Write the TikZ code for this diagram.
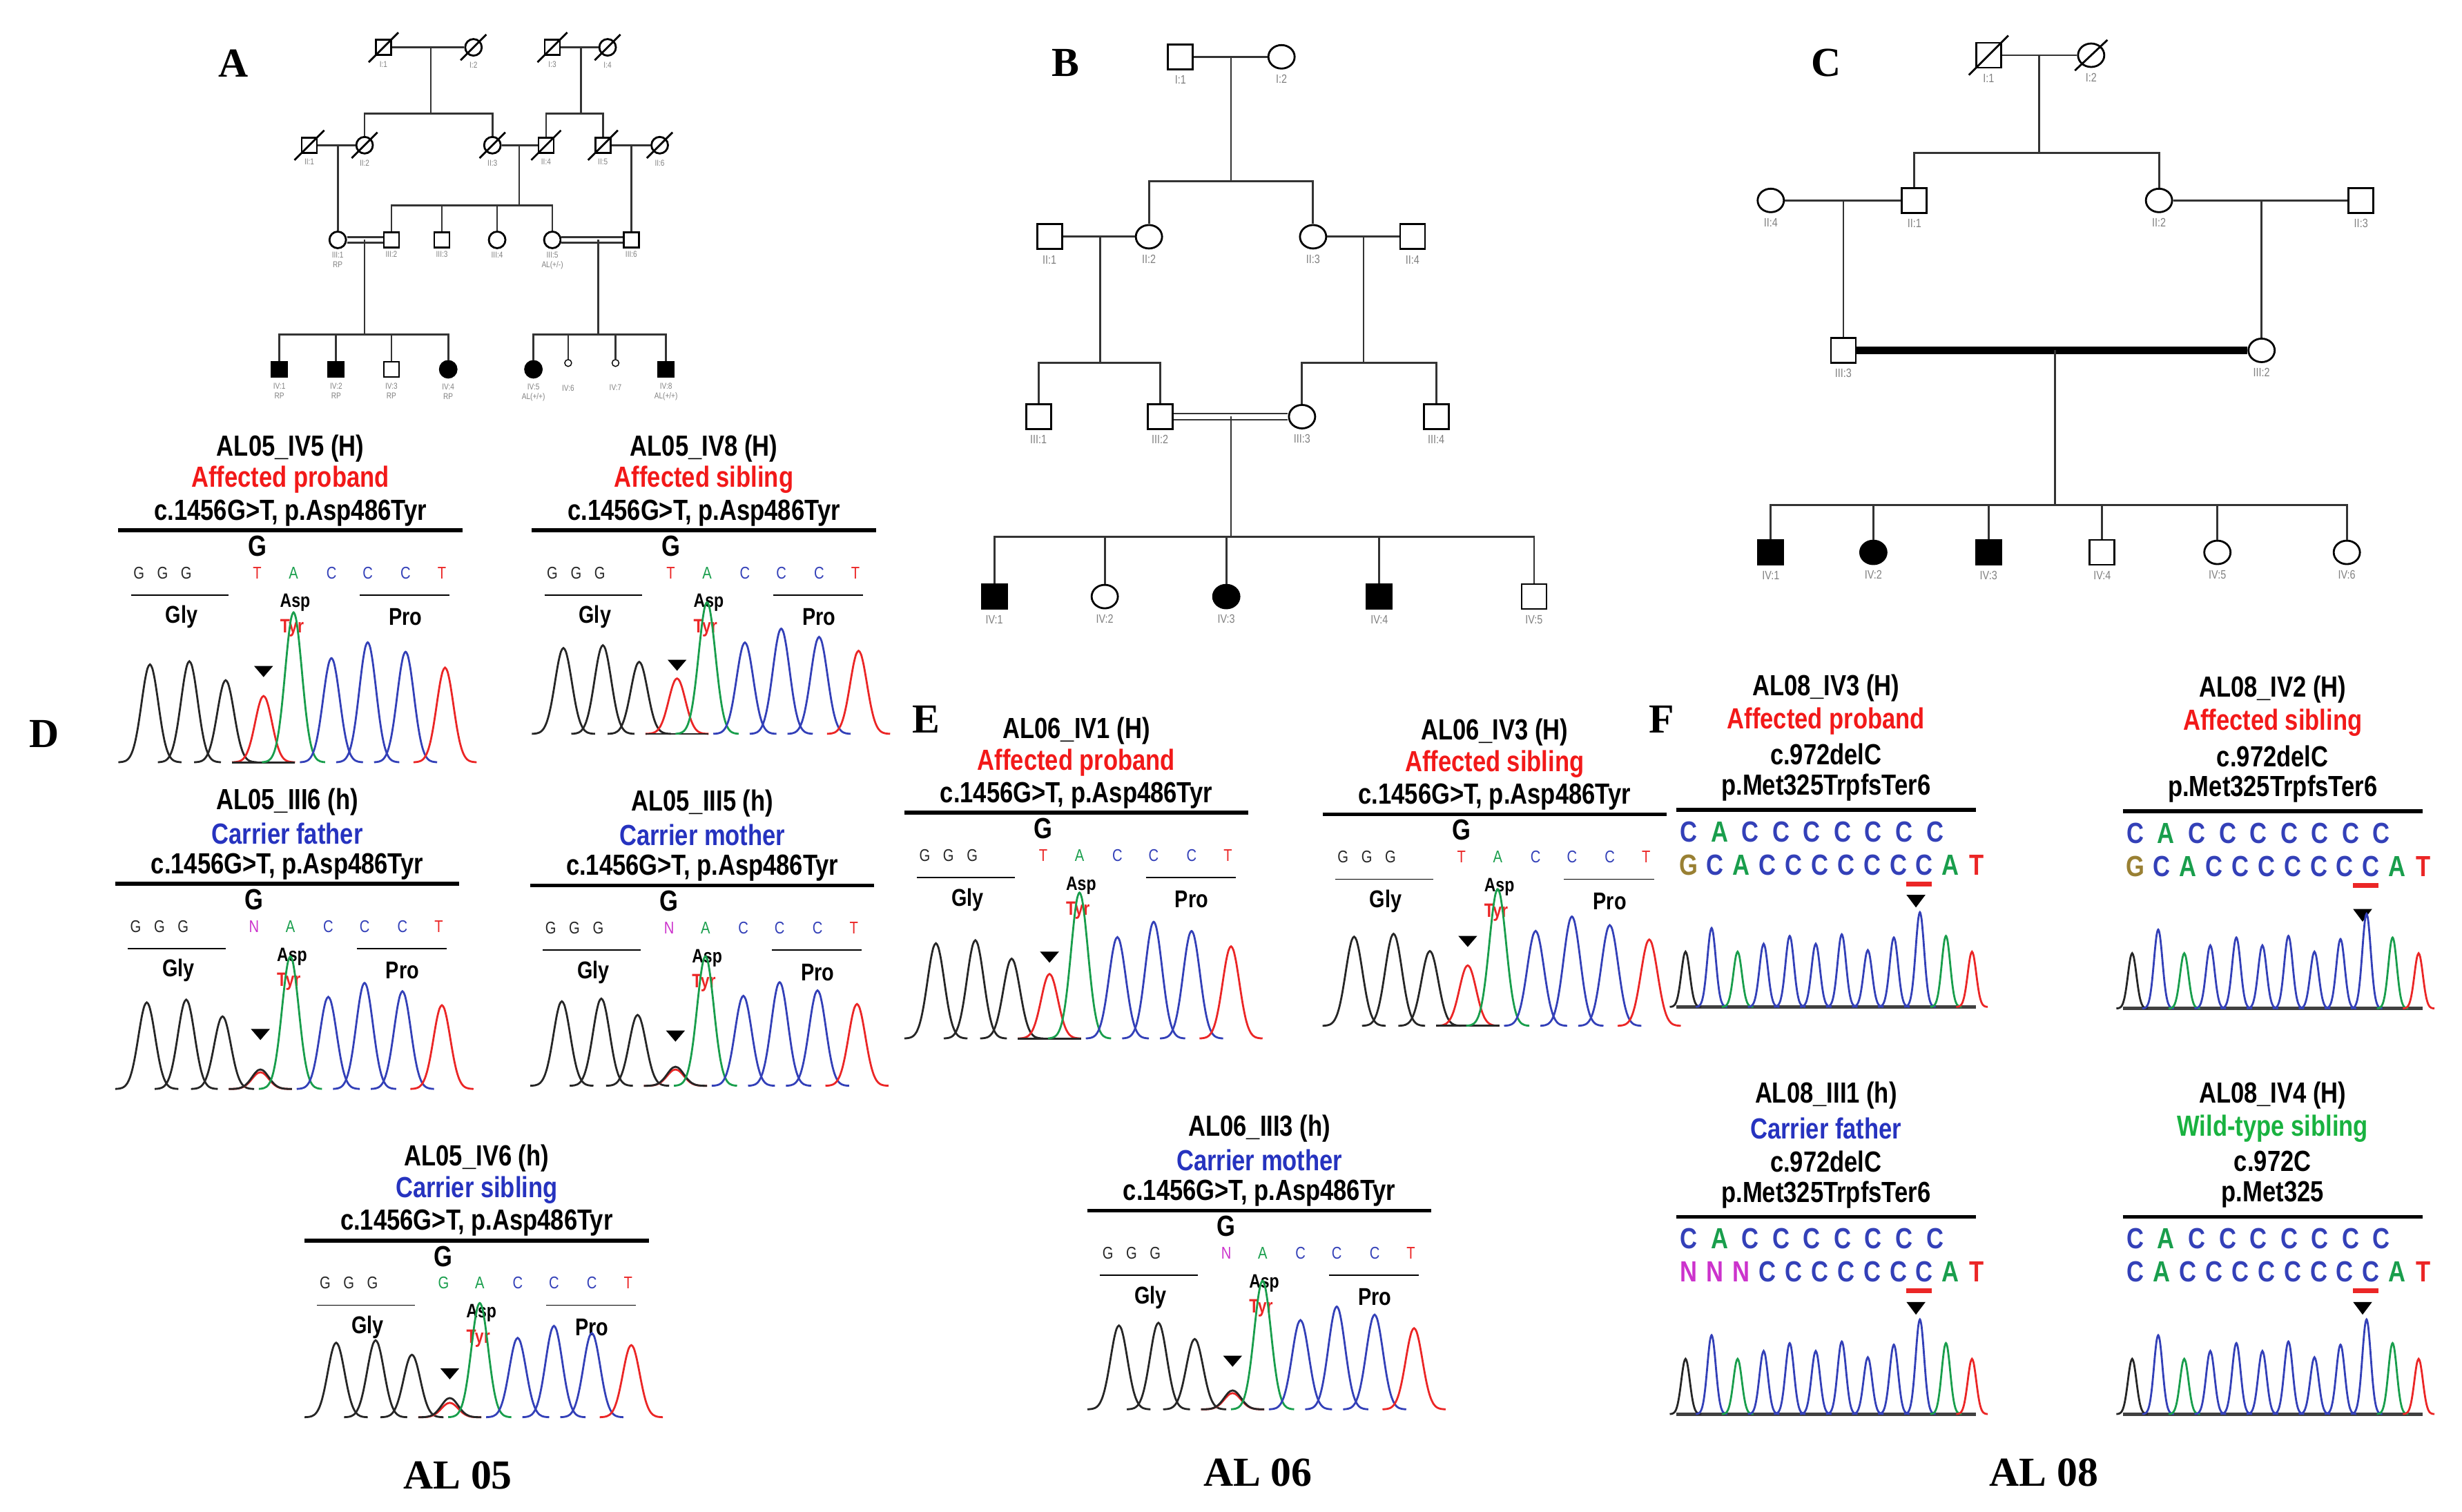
\documentclass[tikz,border=0pt]{standalone}
\usepackage{fontspec}
\setmainfont{Liberation Serif}
\newfontfamily\hs{Liberation Sans}[FakeStretch=0.82]
\usetikzlibrary{calc,shapes.geometric}
\definecolor{bC}{rgb}{0.2,0.25,0.72}
\definecolor{gA}{rgb}{0.1,0.62,0.3}
\definecolor{rT}{rgb}{0.92,0.15,0.15}
\definecolor{kG}{rgb}{0.15,0.15,0.15}
\definecolor{yG}{rgb}{0.6,0.5,0.2}
\definecolor{mN}{rgb}{0.8,0.2,0.8}
\definecolor{labred}{rgb}{0.95,0.1,0.1}
\definecolor{labblue}{rgb}{0.15,0.2,0.75}
\definecolor{labgreen}{rgb}{0.1,0.7,0.25}
\tikzset{
  ttl/.style={font=\hs\bfseries\fontsize{12}{13}\selectfont, inner sep=0},
  sq/.style={font=\hs\fontsize{7}{8}\selectfont, inner sep=0},
  aa/.style={font=\hs\bfseries\fontsize{10}{11}\selectfont, inner sep=0},
  fsq/.style={font=\hs\bfseries\fontsize{12}{13}\selectfont, inner sep=0},
  panel/.style={font=\bfseries\fontsize{17}{19}\selectfont, inner sep=0},
  plab/.style={font=\hs\fontsize{3.5}{4}\selectfont, text=gray, align=center, inner sep=1pt},
  blab/.style={font=\hs\fontsize{5}{6}\selectfont, text=gray, align=center, inner sep=2pt},
  ma/.style={draw, rectangle, minimum size=0.22cm, inner sep=0, thick},
  fa/.style={draw, circle, minimum size=0.24cm, inner sep=0, thick},
  mb/.style={draw, rectangle, minimum size=0.36cm, inner sep=0, thick},
  fb/.style={draw, ellipse, minimum width=0.38cm, minimum height=0.34cm, inner sep=0, thick},
  dec/.style={thick},
  ped/.style={thick, draw=black!80},
}
\newcommand\dead[1]{\draw[dec] ([shift={(-4,4)}]#1.south west) -- ([shift={(4,-4)}]#1.north east);}
% peak on baseline 0, drawn inside a scaled scope
\newcommand\pk[3]{\draw[#3, line width=0.8pt] plot[domain={#1-20}:{#1+20}, samples=27, smooth] (\x,{-#2*exp(-((\x-(#1))/7.5)^2)});}
\newcommand\fpk[4]{\draw[#4, line width=0.8pt] plot[domain={#1-10}:{#1+10}, samples=21, smooth] (\x,{#2-#3*exp(-((\x-(#1))/3.8)^2)});}
% c.1456G>T panels; \bl = baseline offset below the bar
\newcommand\mutpanel[9]{%
\begin{scope}[shift={(#1,#2)}]
  \node[ttl] (#3a) at (109,-52) {#4};
  \node[ttl, text=#6] (#3b) at (109,-32) {#5};
  \node[ttl] (#3c) at (109,-11) {c.1456G>T, p.Asp486Tyr};
  \draw[line width=1.6pt] (0,0) -- (218,0);
  \node[ttl] (#3g) at (88,10) {G};
  \node[sq, text=kG] at (13,27) {G};
  \node[sq, text=kG] at (28,27) {G};
  \node[sq, text=kG] at (43,27) {G};
  \node[sq] at (88,27) {#7};
  \node[sq, text=gA] at (111,27) {A};
  \node[sq, text=bC] at (135,27) {C};
  \node[sq, text=bC] at (158,27) {C};
  \node[sq, text=bC] at (182,27) {C};
  \node[sq, text=rT] at (205,27) {T};
  \draw (8,41) -- (70,41);
  \draw (153,41) -- (210,41);
  \node[aa] at (40,55) {Gly};
  \node[aa] at (182,55) {Pro};
  \node[aa, font=\hs\bfseries\fontsize{8}{9}\selectfont] at (112,46) {Asp};
  \node[aa, font=\hs\bfseries\fontsize{8}{9}\selectfont, text=rT] at (110,62) {Tyr};
  \fill (86,\tri) -- (98,\tri) -- (92,\tri+7) -- cycle;
  \begin{scope}[yshift={-\bl*0.02286cm}, yscale={\bl/147}]
  \pk{20}{62}{kG}
  \pk{45}{64}{kG}
  \pk{68}{52}{kG}
  \pk{92}{#8}{rT}
  \pk{92}{#9}{kG}
  \pk{111}{95}{gA}
  \pk{135}{66}{bC}
  \pk{158}{76}{bC}
  \pk{182}{70}{bC}
  \pk{207}{60}{rT}
  \end{scope}
\end{scope}}
% c.972delC panels
\newcommand\delpanel[9]{%
\begin{scope}[shift={(#1,#2)}]
  \node[ttl] (#3a) at (95,-77) {#4};
  \node[ttl, text=#6] (#3b) at (95,-56) {#5};
  \node[ttl] (#3c) at (95,-35) {#7};
  \node[ttl] (#3d) at (95,-14) {#8};
  \draw[line width=1.6pt] (0,0) -- (190,0);
  \foreach \l/\c [count=\i from 0] in {C/bC,A/gA,C/bC,C/bC,C/bC,C/bC,C/bC,C/bC,C/bC}
    {\node[fsq, text=\c] at ({8+19.5*\i},14) {\l};}
  \foreach \l/\c [count=\i from 0] in {#9}
    {\node[fsq, text=\c] at ({8+16.6*\i},35) {\l};}
  \draw[rT, line width=2pt] (146,47) -- (162,47);
  \fill (146,\tri) -- (158,\tri) -- (152,\tri+8) -- cycle;
  \draw[black!75, line width=1.5pt] (0,125) -- (190,125);
  \foreach \h/\c [count=\i from 0] in {35/kG,50/bC,35/gA,40/bC,45/bC,40/bC,46/bC,36/bC,44/bC,60/bC,45/gA,35/rT}
    {\fpk{6+16.5*\i}{125}{\h}{\c}}
\end{scope}}
\begin{document}
\begin{tikzpicture}[x=0.02286cm, y=-0.02286cm]
\useasboundingbox (0,0) rectangle (1560,958);

% panel letters
\node[panel] (lA) at (148,40) {A};
\node[panel] (lB) at (675,40) {B};
\node[panel] (lC) at (1157,40) {C};
\node[panel] (lD) at (28,465) {D};
\node[panel] (lE) at (587,456) {E};
\node[panel] (lF) at (1053,456) {F};

% ---------------- pedigree A
\node[ma] (IA1) at (243,30) {};
\node[fa] (IA2) at (300,30) {};
\node[ma] (IA3) at (350,30) {};
\node[fa] (IA4) at (385,30) {};
\foreach \n/\t in {IA1/I:1,IA2/I:2,IA3/I:3,IA4/I:4} {\node[plab, below=1pt] at (\n.south) {\t}; \dead{\n}}
\draw[ped] (IA1) -- (IA2);
\draw[ped] (IA3) -- (IA4);
\node[ma] (IIA1) at (196,92) {};
\node[fa] (IIA2) at (231,92) {};
\node[fa] (IIA3) at (312,92) {};
\node[ma] (IIA4) at (346,92) {};
\node[ma] (IIA5) at (382,92) {};
\node[fa] (IIA6) at (418,92) {};
\foreach \n/\t in {IIA1/II:1,IIA2/II:2,IIA3/II:3,IIA4/II:4,IIA5/II:5,IIA6/II:6} {\node[plab, below=1pt] at (\n.south) {\t}; \dead{\n}}
\draw[ped] (273,30) -- (273,72) coordinate (sa1);
\draw[ped] (sa1) -| (IIA2);
\draw[ped] (sa1) -| (IIA3);
\draw[ped] (368,30) -- (368,72) coordinate (sa2);
\draw[ped] (sa2) -| (IIA4);
\draw[ped] (sa2) -| (IIA5);
\draw[ped] (IIA1) -- (IIA2);
\draw[ped] (IIA3) -- (IIA4);
\draw[ped] (IIA5) -- (IIA6);
\node[fa] (IIIA1) at (214,152) {};
\node[ma] (IIIA2) at (248,152) {};
\node[ma] (IIIA3) at (280,152) {};
\node[fa] (IIIA4) at (315,152) {};
\node[fa] (IIIA5) at (350,152) {};
\node[ma] (IIIA6) at (400,152) {};
\foreach \n/\t in {IIIA1/{III:1\\RP},IIIA2/III:2,IIIA3/III:3,IIIA4/III:4,IIIA5/{III:5\\AL(+/-)},IIIA6/III:6}
  {\node[plab, anchor=north] at (\n.south) {\t};}
\draw[ped] (214,92) -- (IIIA1);
\draw[ped] (400,92) -- (IIIA6);
\draw[ped] (329,92) -- (329,130) coordinate (sa3);
\foreach \n in {IIIA2,IIIA3,IIIA4,IIIA5} {\draw[ped] (sa3) -| (\n);}
\draw[ped, double, double distance=1.6pt] (IIIA1) -- (IIIA2);
\draw[ped, double, double distance=1.6pt] (IIIA5) -- (IIIA6);
\node[ma, fill] (IVA1) at (177,234) {};
\node[ma, fill] (IVA2) at (213,234) {};
\node[ma] (IVA3) at (248,234) {};
\node[fa, fill] (IVA4) at (284,234) {};
\node[fa, fill] (IVA5) at (338,234) {};
\node[draw, circle, minimum size=0.1cm, inner sep=0] (IVA6) at (360,230) {};
\node[draw, circle, minimum size=0.1cm, inner sep=0] (IVA7) at (390,230) {};
\node[ma, fill] (IVA8) at (422,234) {};
\foreach \n/\t in {IVA1/{IV:1\\RP},IVA2/{IV:2\\RP},IVA3/{IV:3\\RP},IVA4/{IV:4\\RP},IVA5/{IV:5\\AL(+/+)},IVA8/{IV:8\\AL(+/+)}}
  {\node[plab, anchor=north] at ([yshift=-1pt]\n.south) {\t};}
\node[plab, anchor=north] at (360,242) {IV:6};
\node[plab, anchor=north] at (390,242) {IV:7};
\draw[ped] (231,152) -- (231,212) coordinate (sa4);
\foreach \n in {IVA1,IVA2,IVA3,IVA4} {\draw[ped] (sa4) -| (\n);}
\draw[ped] (379,152) -- (379,212) coordinate (sa5);
\foreach \n in {IVA5,IVA6,IVA7,IVA8} {\draw[ped] (sa5) -| (\n);}

% ---------------- pedigree B
\node[mb] (IB1) at (748,36) {};
\node[fb] (IB2) at (812,36) {};
\node[mb] (IIB1) at (665,150) {};
\node[fb] (IIB2) at (728,150) {};
\node[fb] (IIB3) at (832,150) {};
\node[mb] (IIB4) at (895,150) {};
\node[mb] (IIIB1) at (658,264) {};
\node[mb] (IIIB2) at (735,264) {};
\node[fb] (IIIB3) at (825,264) {};
\node[mb] (IIIB4) at (910,264) {};
\node[mb, fill] (IVB1) at (630,378) {};
\node[fb] (IVB2) at (700,378) {};
\node[fb, fill] (IVB3) at (777,378) {};
\node[mb, fill] (IVB4) at (874,378) {};
\node[mb] (IVB5) at (972,378) {};
\foreach \n/\t in {IB1/I:1,IB2/I:2,IIB1/II:1,IIB2/II:2,IIB3/II:3,IIB4/II:4,IIIB1/III:1,IIIB2/III:2,IIIB3/III:3,IIIB4/III:4,IVB1/IV:1,IVB2/IV:2,IVB3/IV:3,IVB4/IV:4,IVB5/IV:5}
  {\node[blab, anchor=north] at (\n.south) {\t};}
\draw[ped] (IB1) -- (IB2);
\draw[ped] (780,36) -- (780,115) coordinate (sb1);
\draw[ped] (sb1) -| (IIB2);
\draw[ped] (sb1) -| (IIB3);
\draw[ped] (IIB1) -- (IIB2);
\draw[ped] (IIB3) -- (IIB4);
\draw[ped] (697,150) -- (697,230) coordinate (sb2);
\draw[ped] (sb2) -| (IIIB1);
\draw[ped] (sb2) -| (IIIB2);
\draw[ped] (864,150) -- (864,230) coordinate (sb3);
\draw[ped] (sb3) -| (IIIB3);
\draw[ped] (sb3) -| (IIIB4);
\draw[ped, double, double distance=1.8pt] (IIIB2) -- (IIIB3);
\draw[ped] (780,264) -- (780,340) coordinate (sb4);
\foreach \n in {IVB1,IVB2,IVB3,IVB4,IVB5} {\draw[ped] (sb4) -| (\n);}

% ---------------- pedigree C
\node[mb] (IC1) at (1260,35) {};
\node[fb] (IC2) at (1325,35) {};
\dead{IC1}
\dead{IC2}
\node[fb] (IIC4) at (1122,127) {};
\node[mb] (IIC1) at (1213,127) {};
\node[fb] (IIC2) at (1368,127) {};
\node[mb] (IIC3) at (1496,127) {};
\node[mb] (IIIC3) at (1168,222) {};
\node[fb] (IIIC2) at (1433,222) {};
\node[mb, fill] (IVC1) at (1122,350) {};
\node[fb, fill] (IVC2) at (1187,350) {};
\node[mb, fill] (IVC3) at (1260,350) {};
\node[mb] (IVC4) at (1332,350) {};
\node[fb] (IVC5) at (1405,350) {};
\node[fb] (IVC6) at (1487,350) {};
\foreach \n/\t in {IC1/I:1,IC2/I:2,IIC4/II:4,IIC1/II:1,IIC2/II:2,IIC3/II:3,IIIC3/III:3,IIIC2/III:2,IVC1/IV:1,IVC2/IV:2,IVC3/IV:3,IVC4/IV:4,IVC5/IV:5,IVC6/IV:6}
  {\node[blab, anchor=north] at (\n.south) {\t};}
\draw[ped] (IC1) -- (IC2);
\draw[ped] (1292,35) -- (1292,97) coordinate (sc1);
\draw[ped] (sc1) -| (IIC1);
\draw[ped] (sc1) -| (IIC2);
\draw[ped] (IIC4) -- (IIC1);
\draw[ped] (IIC2) -- (IIC3);
\draw[ped] (1168,127) -- (IIIC3);
\draw[ped] (1433,127) -- (IIIC2);
\draw[line width=3pt] (IIIC3) -- (IIIC2);
\draw[ped] (1302,222) -- (1302,320) coordinate (sc2);
\foreach \n in {IVC1,IVC2,IVC3,IVC4,IVC5,IVC6} {\draw[ped] (sc2) -| (\n);}

% ---------------- chromatograms D, E
\def\bl{147}\def\tri{86}
\mutpanel{75}{336}{d1}{AL05\_IV5 (H)}{Affected proband}{labred}{\textcolor{rT}{T}}{42}{0}
\def\bl{129}\def\tri{82}
\mutpanel{337}{336}{d2}{AL05\_IV8 (H)}{Affected sibling}{labred}{\textcolor{rT}{T}}{40}{0}
\def\bl{130}\def\tri{92}
\mutpanel{73}{560}{d3}{AL05\_III6 (h)}{Carrier father}{labblue}{\textcolor{mN}{N}}{12}{14}
\def\bl{127}\def\tri{92}
\mutpanel{336}{561}{d4}{AL05\_III5 (h)}{Carrier mother}{labblue}{\textcolor{mN}{N}}{12}{14}
\def\bl{112}\def\tri{81}
\mutpanel{193}{786}{d5}{AL05\_IV6 (h)}{Carrier sibling}{labblue}{\textcolor{gA}{G}}{12}{16}
\def\bl{143}\def\tri{88}
\mutpanel{573}{515}{e1}{AL06\_IV1 (H)}{Affected proband}{labred}{\textcolor{rT}{T}}{42}{0}
\def\bl{134}\def\tri{77}
\mutpanel{838}{516}{e2}{AL06\_IV3 (H)}{Affected sibling}{labred}{\textcolor{rT}{T}}{42}{0}
\def\bl{126}\def\tri{92}
\mutpanel{689}{767}{e3}{AL06\_III3 (h)}{Carrier mother}{labblue}{\textcolor{mN}{N}}{12}{14}

% ---------------- chromatograms F
\def\tri{54}
\delpanel{1062}{513}{f1}{AL08\_IV3 (H)}{Affected proband}{labred}{c.972delC}{p.Met325TrpfsTer6}{G/yG,C/bC,A/gA,C/bC,C/bC,C/bC,C/bC,C/bC,C/bC,C/bC,A/gA,T/rT}
\def\tri{62}
\delpanel{1345}{514}{f2}{AL08\_IV2 (H)}{Affected sibling}{labred}{c.972delC}{p.Met325TrpfsTer6}{G/yG,C/bC,A/gA,C/bC,C/bC,C/bC,C/bC,C/bC,C/bC,C/bC,A/gA,T/rT}
\def\tri{54}
\delpanel{1062}{771}{f3}{AL08\_III1 (h)}{Carrier father}{labblue}{c.972delC}{p.Met325TrpfsTer6}{N/mN,N/mN,N/mN,C/bC,C/bC,C/bC,C/bC,C/bC,C/bC,C/bC,A/gA,T/rT}
\delpanel{1345}{771}{f4}{AL08\_IV4 (H)}{Wild-type sibling}{labgreen}{c.972C}{p.Met325}{C/bC,A/gA,C/bC,C/bC,C/bC,C/bC,C/bC,C/bC,C/bC,C/bC,A/gA,T/rT}

% family labels
\node[panel] (al5) at (290,935) {AL 05};
\node[panel] (al6) at (797,933) {AL 06};
\node[panel] (al8) at (1295,933) {AL 08};
\end{tikzpicture}
\end{document}
